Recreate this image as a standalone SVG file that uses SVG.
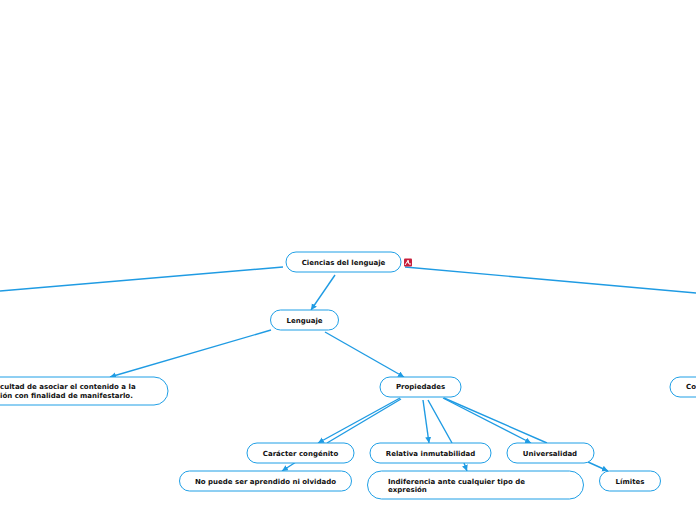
<svg xmlns="http://www.w3.org/2000/svg" width="696" height="520" viewBox="0 0 696 520">
<style>
.n{fill:#fff;stroke:#1f9fe6;stroke-width:1}
.t{font-family:"DejaVu Sans",Verdana,sans-serif;font-size:7px;font-weight:700;fill:#111}
.c{fill:none;stroke:#1f9be3;stroke-width:1.4}
.m{text-anchor:middle}
</style>
<defs><marker id="a" markerUnits="userSpaceOnUse" markerWidth="7" markerHeight="7" refX="6" refY="3" orient="auto"><path d="M0 0L6 3L0 6Z" fill="#1f9be3"/></marker></defs>
<g id="connectors">
<path class="c" d="M283 267L0 291"/>
<path class="c" d="M405 267L696 293"/>
<path class="c" marker-end="url(#a)" d="M335 275L311 310"/>
<path class="c" marker-end="url(#a)" d="M271 330L110 377"/>
<path class="c" marker-end="url(#a)" d="M325 332L404 377"/>
<path class="c" marker-end="url(#a)" d="M400 398L318 443"/>
<path class="c" marker-end="url(#a)" d="M401 399L327 443M296 462L282 471"/>
<path class="c" marker-end="url(#a)" d="M423 400L429 443"/>
<path class="c" marker-end="url(#a)" d="M428 400L452 443M464 463L467 471"/>
<path class="c" marker-end="url(#a)" d="M443 398L531 443"/>
<path class="c" marker-end="url(#a)" d="M444 398L547 443M588 462L608 471"/>
</g>
<g id="n1"><rect class="n" x="286" y="252" width="115" height="20" rx="10"/><text class="t m" x="343.500" y="265">Ciencias del lenguaje</text></g>
<g id="n1-badge"><rect x="404" y="258.500" width="8" height="8" rx="1" fill="#c8203c"/><path d="M405 265L408 260.500L409 264H411M408 263V260" stroke="#fff" stroke-width="1" fill="none"/></g>
<g id="n2"><rect class="n" x="270.500" y="310" width="68" height="20" rx="10"/><text class="t m" x="304.500" y="323">Lenguaje</text></g>
<g id="n3"><rect class="n" x="-60" y="377" width="228" height="28" rx="14"/><text class="t" x="0" y="388.500">cultad de asociar el contenido a la</text><text class="t" x="0" y="398">ión con finalidad de manifestarlo.</text></g>
<g id="n4"><rect class="n" x="380" y="377" width="81" height="20" rx="10"/><text class="t m" x="420.500" y="389">Propiedades</text></g>
<g id="n5"><rect class="n" x="670" y="377" width="80" height="20" rx="10"/><text class="t" x="686" y="389">Co</text></g>
<g id="n6"><rect class="n" x="247" y="443" width="107" height="20" rx="10"/><text class="t m" x="300.500" y="456">Carácter congénito</text></g>
<g id="n7"><rect class="n" x="370" y="443" width="121" height="20" rx="10"/><text class="t m" x="430.500" y="456">Relativa inmutabilidad</text></g>
<g id="n8"><rect class="n" x="507" y="443" width="87" height="20" rx="10"/><text class="t m" x="550" y="456">Universalidad</text></g>
<g id="n9"><rect class="n" x="179.500" y="471" width="172" height="20" rx="10"/><text class="t m" x="265.500" y="484">No puede ser aprendido ni olvidado</text></g>
<g id="n10"><rect class="n" x="367.500" y="471" width="216" height="28" rx="14"/><text class="t" x="388" y="484">Indiferencia ante cualquier tipo de</text><text class="t" x="388" y="492">expresión</text></g>
<g id="n11"><rect class="n" x="599.500" y="471" width="61" height="20" rx="10"/><text class="t m" x="630" y="484">Límites</text></g>
</svg>
